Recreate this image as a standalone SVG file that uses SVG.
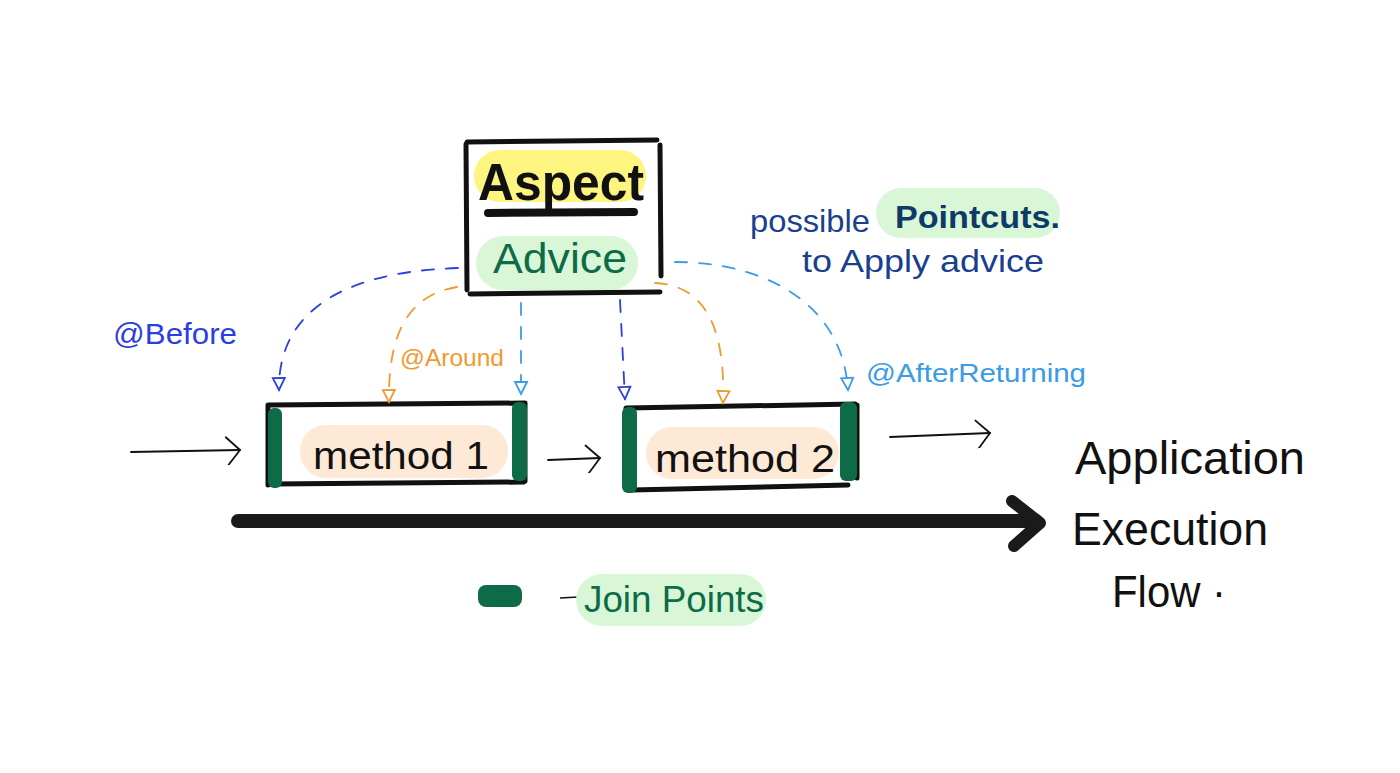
<svg xmlns="http://www.w3.org/2000/svg" width="1400" height="773" viewBox="0 0 1400 773">
<style>
.hand{font-family:"Liberation Sans","DejaVu Sans",sans-serif}
.frame{fill:none;stroke:#111;stroke-width:5;stroke-linecap:round}
.jp{fill:#0d6b47}
.dash{fill:none;stroke-width:1.8;stroke-dasharray:12 12;stroke-linecap:round}
.thin{fill:none;stroke:#111;stroke-width:1.8;stroke-linecap:round;stroke-linejoin:round}
</style>
<defs>
<marker id="mBlue" markerWidth="16" markerHeight="16" viewBox="-2 -8 16 16" refX="12" refY="0" orient="auto" markerUnits="userSpaceOnUse"><path d="M0,-6 L12,0 L0,6 Z" fill="#fff" stroke="#2b3fe0" stroke-width="1.8"/></marker>
<marker id="mLight" markerWidth="16" markerHeight="16" viewBox="-2 -8 16 16" refX="12" refY="0" orient="auto" markerUnits="userSpaceOnUse"><path d="M0,-6 L12,0 L0,6 Z" fill="#fff" stroke="#3a9be8" stroke-width="1.8"/></marker>
<marker id="mOrange" markerWidth="16" markerHeight="16" viewBox="-2 -8 16 16" refX="12" refY="0" orient="auto" markerUnits="userSpaceOnUse"><path d="M0,-6 L12,0 L0,6 Z" fill="#fff" stroke="#f09a2e" stroke-width="1.8"/></marker>
<marker id="mOpen" markerWidth="20" markerHeight="30" viewBox="-2 -15 20 30" refX="14" refY="0" orient="auto" markerUnits="userSpaceOnUse"><path d="M0,-13 L14,0 L2,15" fill="none" stroke="#111" stroke-width="1.8" stroke-linecap="round" stroke-linejoin="round"/></marker>
</defs>
<rect width="1400" height="773" fill="#fff"/>

<g id="aspect">
<rect x="474" y="150" width="172" height="52" rx="26" fill="#fdf57f"/>
<text x="478" y="200" class="hand" font-size="52" font-weight="bold" fill="#111" textLength="166" lengthAdjust="spacingAndGlyphs">Aspect</text>
<line x1="488" y1="213" x2="634" y2="212" stroke="#111" stroke-width="8" stroke-linecap="round"/>
<rect x="476" y="236" width="162" height="54" rx="27" fill="#d9f7d6"/>
<text x="493" y="273" class="hand" font-size="42" fill="#0d6b47" textLength="134" lengthAdjust="spacingAndGlyphs">Advice</text>
<path class="frame" d="M467,142 L657,140 M466,144 L467,290 M660,145 L661,276 M470,294 L660,292"/>
</g>

<g id="method1">
<rect x="300" y="425" width="208" height="53" rx="26" fill="#fde9d6"/>
<text x="313" y="469" class="hand" font-size="38" fill="#111" textLength="176" lengthAdjust="spacingAndGlyphs">method 1</text>
<path class="frame" d="M268,405 L525,403 M268,405 L268,485 M525,403 L525,481 M272,484 L524,482"/>
<rect class="jp" x="268" y="408" width="14" height="80" rx="6"/>
<rect class="jp" x="512" y="402" width="15" height="79" rx="6"/>
</g>

<g id="method2">
<rect x="646" y="427" width="193" height="52" rx="26" fill="#fde9d6"/>
<text x="655" y="472" class="hand" font-size="38" fill="#111" textLength="180" lengthAdjust="spacingAndGlyphs">method 2</text>
<path class="frame" d="M627,408 L855,404 M626,408 L627,490 M857,405 L857,478 M632,490 L848,485"/>
<rect class="jp" x="622" y="407" width="15" height="86" rx="6"/>
<rect class="jp" x="840" y="402" width="17" height="79" rx="6"/>
</g>

<g id="connectors">
<path class="dash" stroke="#2b3fe0" d="M458,268 C330,272 278,320 279,390" marker-end="url(#mBlue)"/>
<path class="dash" stroke="#f09a2e" d="M457,287 C410,295 388,330 389,402" marker-end="url(#mOrange)"/>
<path class="dash" stroke="#3a9be8" d="M521,303 L521,394" marker-end="url(#mLight)"/>
<path class="dash" stroke="#2b3fe0" d="M620,300 L625,399" marker-end="url(#mBlue)"/>
<path class="dash" stroke="#f09a2e" d="M655,283 C700,285 726,320 723,403" marker-end="url(#mOrange)"/>
<path class="dash" stroke="#3a9be8" d="M675,262 C760,262 842,300 848,390" marker-end="url(#mLight)"/>
<path class="thin" d="M131,452 L240,450" marker-end="url(#mOpen)"/>
<path class="thin" d="M548,460 L600,458" marker-end="url(#mOpen)"/>
<path class="thin" d="M890,437 L990,433" marker-end="url(#mOpen)"/>
<line x1="238" y1="521" x2="1036" y2="521" stroke="#1a1a1a" stroke-width="14" stroke-linecap="round"/>
<path d="M1012,501 L1040,523 L1014,546" fill="none" stroke="#1a1a1a" stroke-width="12" stroke-linecap="round" stroke-linejoin="round"/>
</g>

<g id="labels">
<text x="113" y="344" class="hand" font-size="30" fill="#2b3fe0" textLength="124" lengthAdjust="spacingAndGlyphs">@Before</text>
<text x="400" y="366" class="hand" font-size="24" fill="#f09a2e" textLength="104" lengthAdjust="spacingAndGlyphs">@Around</text>
<text x="866" y="382" class="hand" font-size="26" fill="#3a9be8" textLength="220" lengthAdjust="spacingAndGlyphs">@AfterReturning</text>
</g>

<g id="pointcuts">
<rect x="876" y="188" width="184" height="50" rx="25" fill="#d9f7d6"/>
<text x="750" y="232" class="hand" font-size="32" fill="#1a3f8f" textLength="120" lengthAdjust="spacingAndGlyphs">possible</text>
<text x="895" y="228" class="hand" font-size="32" font-weight="bold" fill="#0d3b66" textLength="165" lengthAdjust="spacingAndGlyphs">Pointcuts.</text>
<text x="802" y="272" class="hand" font-size="32" fill="#1a3f8f" textLength="242" lengthAdjust="spacingAndGlyphs">to Apply advice</text>
</g>

<g id="flow">
<text x="1075" y="474" class="hand" font-size="46" fill="#111" textLength="230" lengthAdjust="spacingAndGlyphs">Application</text>
<text x="1072" y="545" class="hand" font-size="46" fill="#111" textLength="196" lengthAdjust="spacingAndGlyphs">Execution</text>
<text x="1112" y="607" class="hand" font-size="44" fill="#111" textLength="114" lengthAdjust="spacingAndGlyphs">Flow ·</text>
</g>

<g id="legend">
<rect class="jp" x="478" y="585" width="44" height="22" rx="8"/>
<line x1="560" y1="598" x2="578" y2="597" stroke="#111" stroke-width="1.5"/>
<rect x="576" y="574" width="190" height="52" rx="26" fill="#d9f7d6"/>
<text x="584" y="612" class="hand" font-size="36" fill="#0d6b47" textLength="180" lengthAdjust="spacingAndGlyphs">Join Points</text>
</g>
</svg>
